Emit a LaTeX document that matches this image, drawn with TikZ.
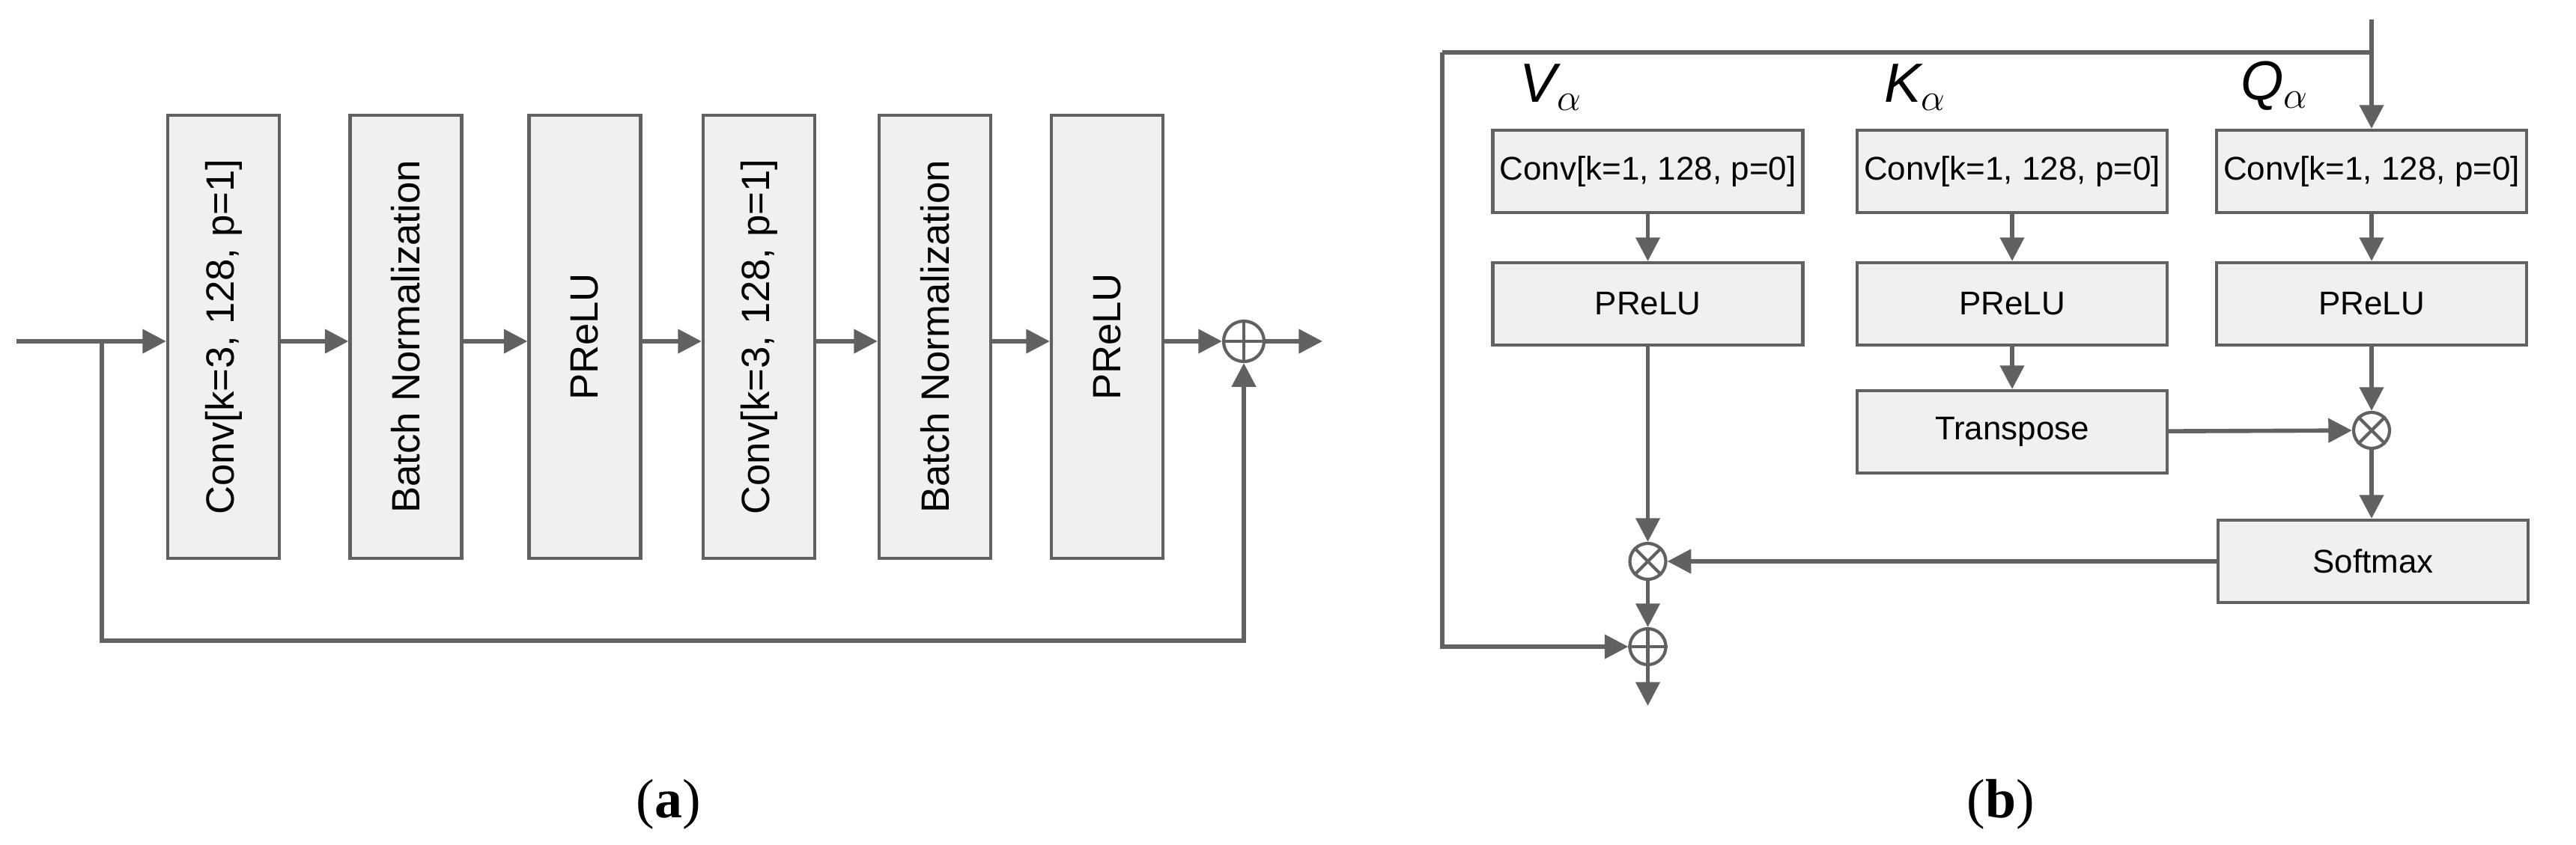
\documentclass[tikz,border=0pt]{standalone}
\usepackage{fontspec}
\setmainfont{Liberation Sans}
\newfontfamily\capfont{Liberation Serif}
\usetikzlibrary{positioning}
\usetikzlibrary{arrows.meta}
\colorlet{linegray}{black!62}
\tikzset{>={Triangle[length=9pt,width=9pt]}}
\tikzset{vbox/.style={draw=linegray,fill=black!6,line width=1.2pt,minimum width=1.49cm, minimum height=5.92cm, inner sep=0pt}}
\tikzset{hbox/.style={draw=linegray,fill=black!6,line width=1.2pt,minimum width=4.14cm, minimum height=1.1cm, inner sep=0pt, font=\fontsize{12.5}{15}\selectfont}}
\tikzset{op/.style={draw=linegray,circle, line width=1.2pt, minimum size=0.48cm, inner sep=0pt}}
\tikzset{conn/.style={draw=linegray,line width=1.6pt}}

\begin{document}
\begin{tikzpicture}
\useasboundingbox (0,0) rectangle (34.4,-11.28);
% (a)
\begin{scope}[every node/.append style={font=\fontsize{15}{18}\selectfont}]
\node[vbox] (c1) at (2.985,-4.5) {\rotatebox{90}{Conv[k=3, 128, p=1]}};
\node[vbox] (b1) at (5.42,-4.5) {\rotatebox{90}{Batch Normalization}};
\node[vbox] (p1) at (7.81,-4.5) {\rotatebox{90}{PReLU}};
\node[vbox] (c2) at (10.135,-4.5) {\rotatebox{90}{Conv[k=3, 128, p=1]}};
\node[vbox] (b2) at (12.485,-4.5) {\rotatebox{90}{Batch Normalization}};
\node[vbox] (p2) at (14.785,-4.5) {\rotatebox{90}{PReLU}};
\end{scope}
\node[op,minimum size=0.54cm] (sa) at (16.61,-4.56) {};
\draw[linegray,line width=1.2pt] (sa.north) -- (sa.south) (sa.west) -- (sa.east);
\coordinate (in) at (0.22,-4.56);
\coordinate (split) at (1.36,-4.56);
\coordinate (out) at (17.66,-4.56);

\draw[conn,->] (in) -- (c1.west|-in);
\draw[conn,->] (c1.east|-in) -- (b1.west|-in);
\draw[conn,->] (b1.east|-in) -- (p1.west|-in);
\draw[conn,->] (p1.east|-in) -- (c2.west|-in);
\draw[conn,->] (c2.east|-in) -- (b2.west|-in);
\draw[conn,->] (b2.east|-in) -- (p2.west|-in);
\draw[conn,->] (p2.east|-in) -- (sa);
\draw[conn,->] (sa) -- (out);
\draw[conn,->] (split) |- (1.36,-8.56) -| (sa);

% (b)
\node[hbox] (vc) at (22.005,-2.29) {Conv[k=1, 128, p=0]};
\node[hbox] (vp) at (22.005,-4.06) {PReLU};
\node[hbox] (kc) at (26.87,-2.29) {Conv[k=1, 128, p=0]};
\node[hbox] (kp) at (26.87,-4.06) {PReLU};
\node[hbox] (kt) at (26.87,-5.77) {Transpose};
\node[hbox] (qc) at (31.67,-2.29) {Conv[k=1, 128, p=0]};
\node[hbox] (qp) at (31.67,-4.06) {PReLU};
\node[hbox] (sm) at (31.69,-7.5) {Softmax};

\node[font=\fontsize{21}{24}\selectfont, above=0.12 of vc.north west, xshift=0.8cm, anchor=south] (va) {$\mathit{V}_{\mathrm{\alpha}}$};
\node[font=\fontsize{21}{24}\selectfont, above=0.12 of kc.north west, xshift=0.8cm, anchor=south] (ka) {$\mathit{K}_{\mathrm{\alpha}}$};
\node[font=\fontsize{21}{24}\selectfont, above=0.12 of qc.north west, xshift=0.8cm, anchor=south] (qa) {$\mathit{Q}_{\mathrm{\alpha}}$};

\node[op] (mq) at (31.67,-5.75) {};
\draw[linegray,line width=1.2pt] (mq.north west) -- (mq.south east) (mq.north east) -- (mq.south west);
\node[op] (mv) at (22.005,-7.5) {};
\draw[linegray,line width=1.2pt] (mv.north west) -- (mv.south east) (mv.north east) -- (mv.south west);
\node[op] (sb) at (22.005,-8.64) {};
\draw[linegray,line width=1.2pt] (sb.north) -- (sb.south) (sb.west) -- (sb.east);

\coordinate (top) at (31.67,-0.26);
\coordinate (bend) at (31.67,-0.7);
\coordinate (res) at (19.26,-0.7);
\coordinate (outb) at (22.005,-9.43);

\draw[conn,->] (top) -- (qc);
\draw[conn] (bend) -- (res);
\draw[conn,->] (res) |- (sb);
\draw[conn,->] (vc) -- (vp);
\draw[conn,->] (kc) -- (kp);
\draw[conn,->] (qc) -- (qp);
\draw[conn,->] (kp) -- (kt);
\draw[conn,->] (qp) -- (mq);
\draw[conn,->] (kt) -- (mq);
\draw[conn,->] (mq) -- (sm.north-|mq);
\draw[conn,->] (vp) -- (mv);
\draw[conn,->] (sm) -- (mv);
\draw[conn,->] (mv) -- (sb);
\draw[conn,->] (sb) -- (outb);

% captions
\node[font=\capfont\fontsize{21}{24}\selectfont] (capa) at (8.93,-10.75) {(\textbf{a})};
\node[font=\capfont\fontsize{21}{24}\selectfont] (capb) at (26.72,-10.75) {(\textbf{b})};
\end{tikzpicture}
\end{document}
